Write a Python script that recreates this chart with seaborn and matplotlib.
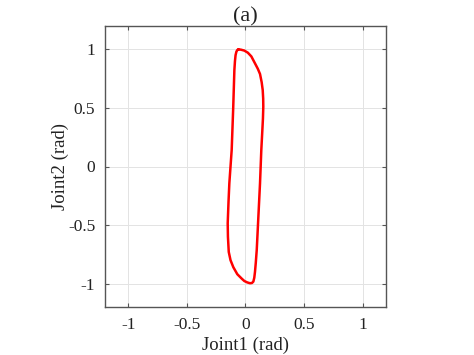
import numpy as np
import pandas as pd
from matplotlib import pyplot as plt
import seaborn as sns

# closed joint trajectory (rad)
joint1 = [-0.061, -0.04, -0.01, 0.02, 0.05, 0.081, 0.105, 0.124, 0.138, 0.147,
          0.151, 0.152, 0.149, 0.144, 0.135, 0.124, 0.11, 0.096, 0.088, 0.081,
          0.075, 0.067, 0.055, 0.038, 0.015, -0.01, -0.032, -0.07, -0.104, -0.128,
          -0.143, -0.15, -0.152, -0.145, -0.138, -0.118, -0.105, -0.095, -0.09,
          -0.085, -0.078, -0.07, -0.061]
joint2 = [1.0, 0.998, 0.99, 0.972, 0.94, 0.881, 0.835, 0.79, 0.72, 0.653,
          0.58, 0.511, 0.41, 0.312, 0.141, -0.143, -0.428, -0.713, -0.82, -0.9,
          -0.95, -0.983, -0.995, -0.997, -0.99, -0.978, -0.958, -0.92, -0.86, -0.8,
          -0.73, -0.6, -0.485, -0.3, -0.143, 0.141, 0.5, 0.824, 0.9,
          0.95, 0.98, 0.995, 1.0]
ticks = [-1, -0.5, 0, 0.5, 1]
tick_labels = ['-1', '-0.5', '0', '0.5', '1']

df = pd.DataFrame({'j1': joint1, 'j2': joint2})

sns.set_style("whitegrid", {"grid.color": "#e3e3e3", "axes.edgecolor": "#555555"})
plt.rcParams['font.family'] = ['Liberation Serif', 'DejaVu Serif']

fig = plt.figure(figsize=(4.74, 3.55), dpi=100)
ax = fig.add_axes([105 / 474, 1 - 307 / 355, 281 / 474, 281 / 355])

sns.lineplot(data=df, x='j1', y='j2', sort=False, estimator=None,
             color='red', linewidth=1.8, ax=ax)

ax.set_xlim(-1.2, 1.2)
ax.set_ylim(-1.2, 1.2)
ax.set_xticks(ticks)
ax.set_xticklabels(tick_labels)
ax.set_yticks(ticks)
ax.set_yticklabels(tick_labels)
ax.tick_params(direction='in', length=3, width=0.8, color='#555555',
               labelsize=12.5, top=True, right=True, bottom=True, left=True,
               labelcolor='#222222', pad=7)
for s in ax.spines.values():
    s.set_linewidth(1.0)
ax.grid(True, linewidth=0.7)

ax.set_xlabel('Joint1 (rad)', fontsize=13.5, color='#222222', labelpad=3)
ax.set_ylabel('Joint2 (rad)', fontsize=13.5, color='#222222', labelpad=-1)
ax.set_title('(a)', fontsize=16, color='#222222', pad=3)

fig.savefig('out.png', dpi=100)
